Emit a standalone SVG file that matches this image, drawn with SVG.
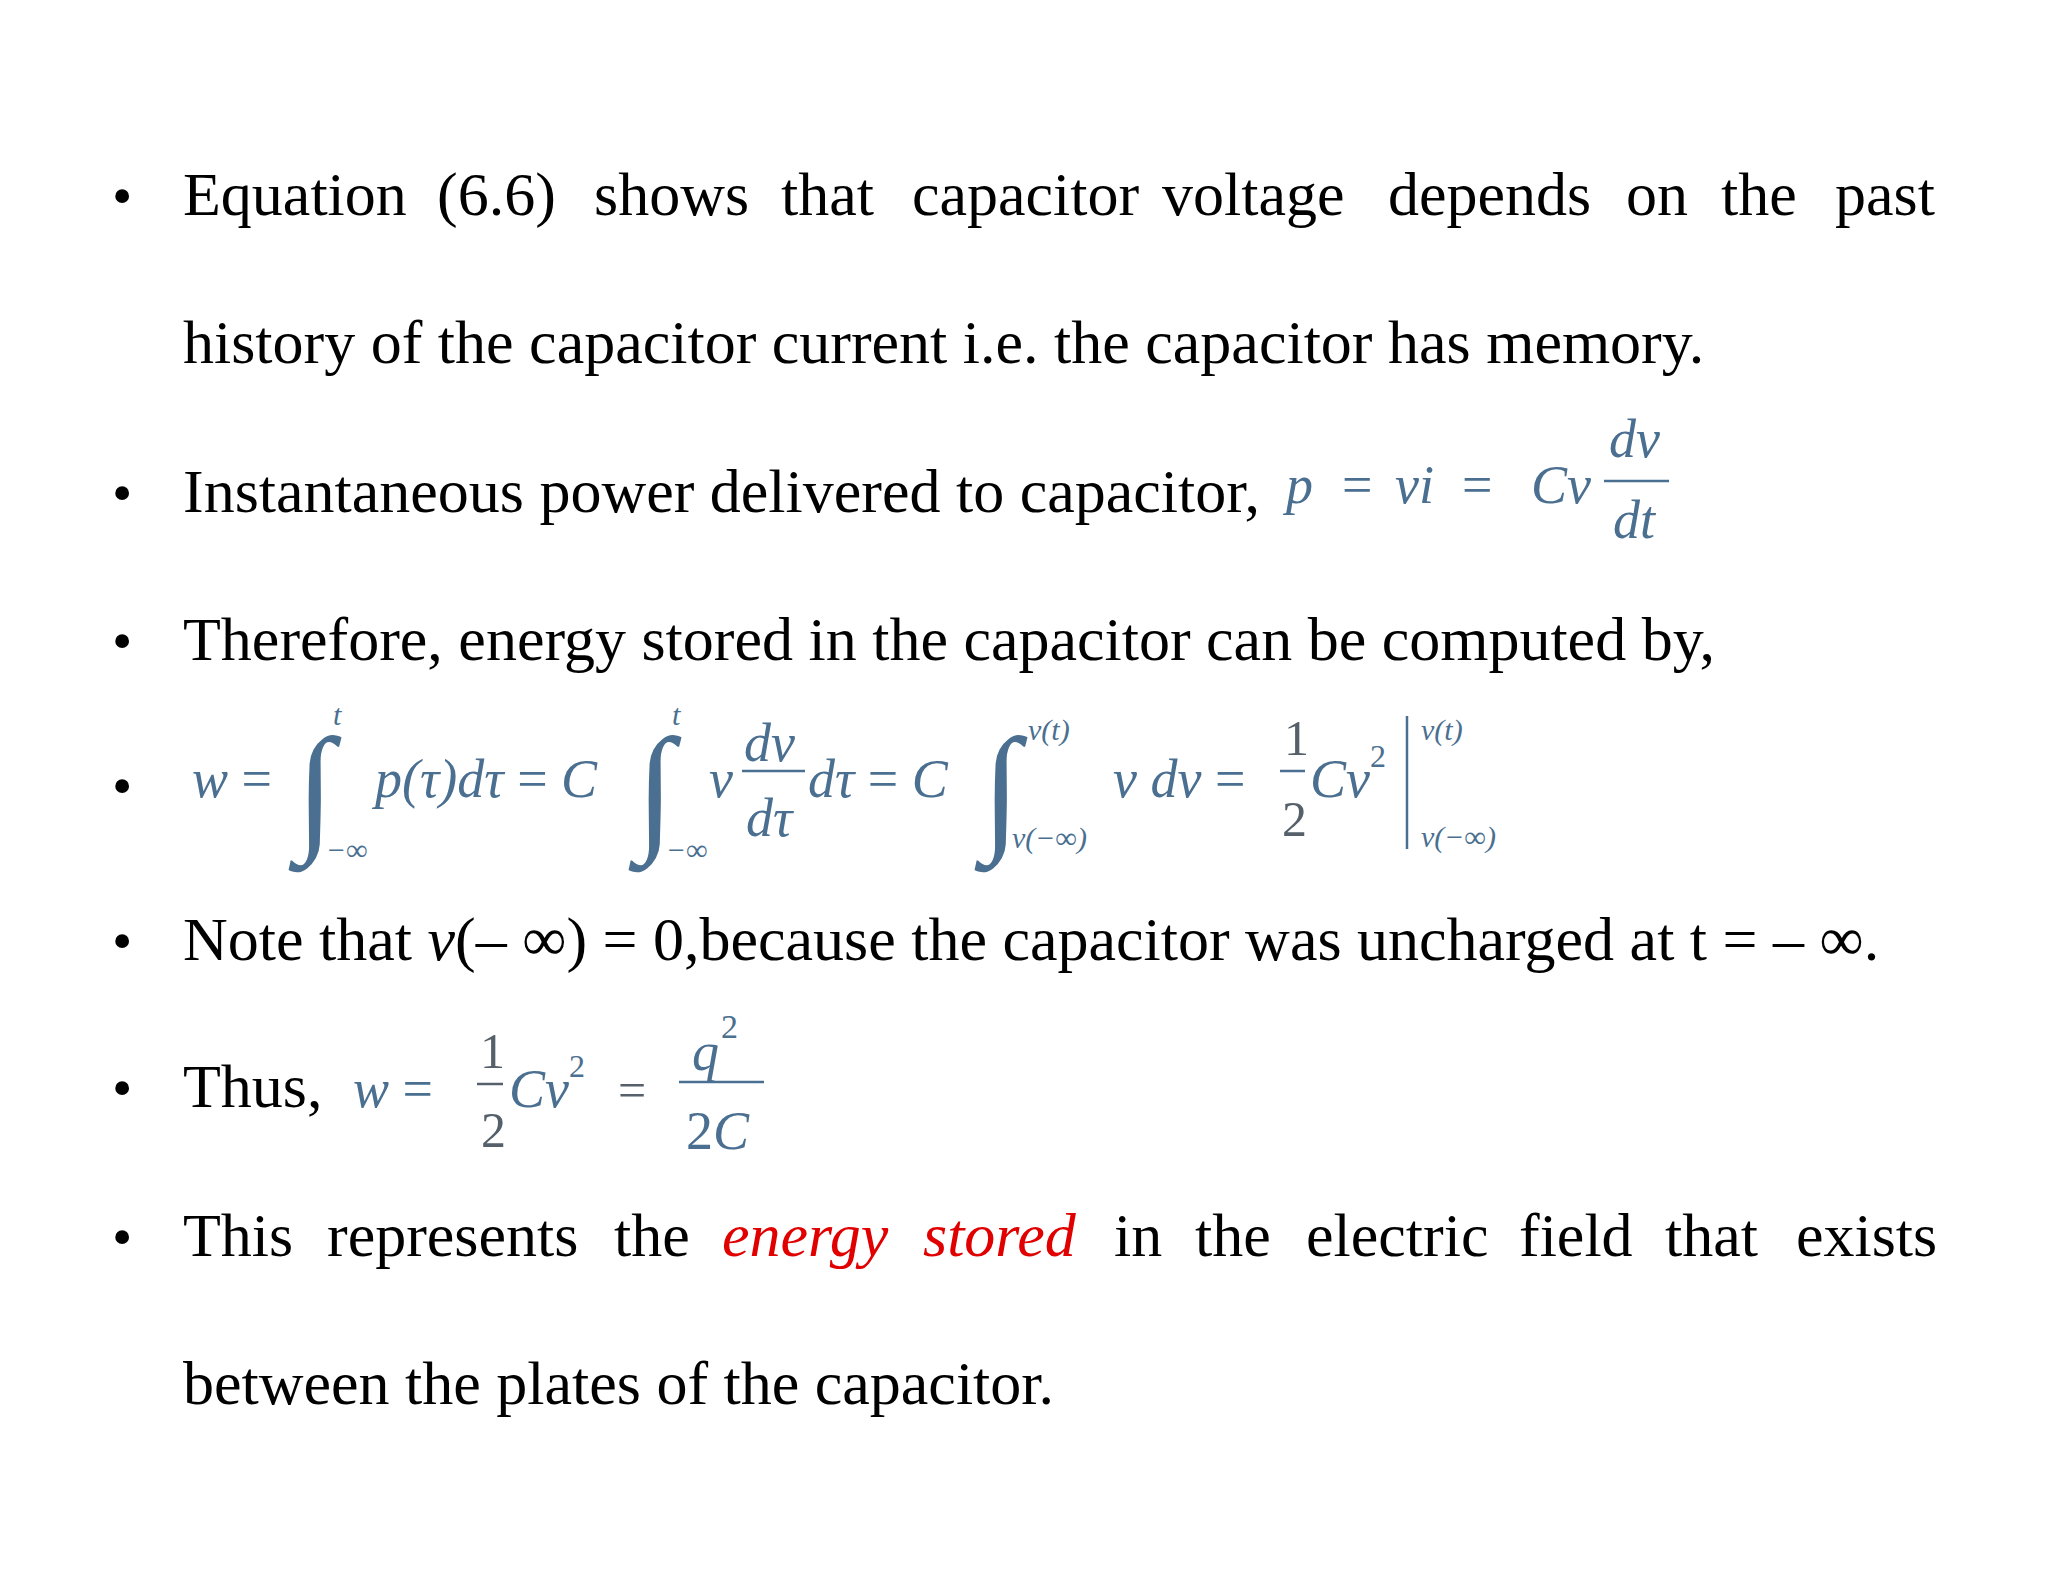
<svg xmlns="http://www.w3.org/2000/svg" width="2048" height="1582" viewBox="0 0 2048 1582">
<style>
.t{font-family:"Liberation Serif",serif;font-size:62px;fill:#000}
.b{font-family:"Liberation Serif",serif;font-size:58px;fill:#000}
.m{font-family:"Liberation Serif",serif;font-style:italic;font-size:54px;fill:#4a6f90}
.g{font-family:"Liberation Serif",serif;font-size:50px;fill:#55606a}
.s{font-family:"Liberation Serif",serif;font-style:italic;font-size:30px;fill:#4a6f90}
.n{font-style:normal}
.i{font-family:"Liberation Serif",serif;font-size:140px;fill:#4a6f90}
.bar{stroke:#4a6f90;stroke-width:2.5}
.r{fill:#e00000;font-style:italic}
</style>
<rect width="2048" height="1582" fill="#fff"/>
<g id="bullets" class="b">
<text x="112" y="215">•</text><text x="112" y="512">•</text><text x="112" y="660">•</text><text x="112" y="805">•</text><text x="112" y="960">•</text><text x="112" y="1107">•</text><text x="112" y="1256">•</text>
</g>
<g id="p1" class="t">
<text x="183" y="215">Equation</text><text x="437" y="215">(6.6)</text><text x="594" y="215">shows</text><text x="781" y="215">that</text><text x="912" y="215">capacitor</text><text x="1162" y="215">voltage</text><text x="1388" y="215">depends</text><text x="1626" y="215">on</text><text x="1721" y="215">the</text><text x="1835" y="215">past</text>
<text x="183" y="363">history of the capacitor current i.e. the capacitor has memory.</text>
</g>
<g id="p2">
<text class="t" x="183" y="512">Instantaneous power delivered to capacitor,</text>
<text class="m" x="1286" y="503">p</text><text class="m n" x="1342" y="503">=</text><text class="m" x="1395" y="503">vi</text><text class="m n" x="1462" y="503">=</text><text class="m" x="1531" y="503">Cv</text>
<text class="m" x="1609" y="457">dv</text>
<line class="bar" x1="1604" y1="481" x2="1669" y2="481"/>
<text class="m" x="1613" y="538">dt</text>
</g>
<g id="p3"><text class="t" x="183" y="660">Therefore, energy stored in the capacitor can be computed by,</text></g>
<g id="p4">
<text class="m" x="192" y="797">w <tspan class="n">=</tspan></text>
<text class="i" x="296" y="835">∫</text>
<text class="s" x="333" y="725">t</text><text class="s" x="326" y="860">−∞</text>
<text class="m" x="375" y="797">p(τ)dτ <tspan class="n">=</tspan> C</text>
<text class="i" x="636" y="835">∫</text>
<text class="s" x="672" y="725">t</text><text class="s" x="666" y="860">−∞</text>
<text class="m" x="709" y="797">v</text>
<text class="m" x="744" y="761">dv</text>
<line class="bar" x1="742" y1="771" x2="805" y2="771"/>
<text class="m" x="746" y="836">dτ</text>
<text class="m" x="808" y="797">dτ <tspan class="n">=</tspan> C</text>
<text class="i" x="982" y="835">∫</text>
<text class="s" x="1028" y="740">v(t)</text><text class="s" x="1012" y="848">v(−∞)</text>
<text class="m" x="1113" y="797">v dv <tspan class="n">=</tspan></text>
<text class="g" x="1284" y="755">1</text>
<line class="bar" x1="1280" y1="771" x2="1305" y2="771"/>
<text class="g" x="1282" y="836">2</text>
<text class="m" x="1310" y="797">Cv<tspan class="n" font-size="32" dy="-30">2</tspan></text>
<line class="bar" x1="1407" y1="716" x2="1407" y2="849"/>
<text class="s" x="1421" y="740">v(t)</text><text class="s" x="1421" y="847">v(−∞)</text>
</g>
<g id="p5"><text class="t" x="183" y="960">Note that <tspan font-style="italic">v</tspan>(– ∞) = 0,because the capacitor was uncharged at t = – ∞.</text></g>
<g id="p6">
<text class="t" x="183" y="1107">Thus,</text>
<text class="m" x="353" y="1107" fill="#55606a">w <tspan class="n">=</tspan></text>
<text class="g" x="480" y="1068">1</text>
<line x1="477" y1="1084" x2="503" y2="1084" stroke="#55606a" stroke-width="2.5"/>
<text class="g" x="481" y="1147">2</text>
<text class="m" x="509" y="1107" fill="#55606a">Cv<tspan class="n" font-size="32" dy="-30">2</tspan></text>
<text class="g" x="618" y="1107">=</text>
<text class="m" x="692" y="1070">q<tspan class="n" font-size="34" dx="2" dy="-32">2</tspan></text>
<line class="bar" x1="679" y1="1082" x2="764" y2="1082"/>
<text class="m" x="686" y="1149"><tspan class="n">2</tspan>C</text>
</g>
<g id="p7" class="t">
<text x="183" y="1256">This</text><text x="327" y="1256">represents</text><text x="614" y="1256">the</text><text class="r" x="722" y="1256">energy</text><text class="r" x="923" y="1256">stored</text><text x="1114" y="1256">in</text><text x="1195" y="1256">the</text><text x="1306" y="1256">electric</text><text x="1519" y="1256">field</text><text x="1665" y="1256">that</text><text x="1796" y="1256">exists</text>
<text x="183" y="1404">between the plates of the capacitor.</text>
</g>
</svg>
